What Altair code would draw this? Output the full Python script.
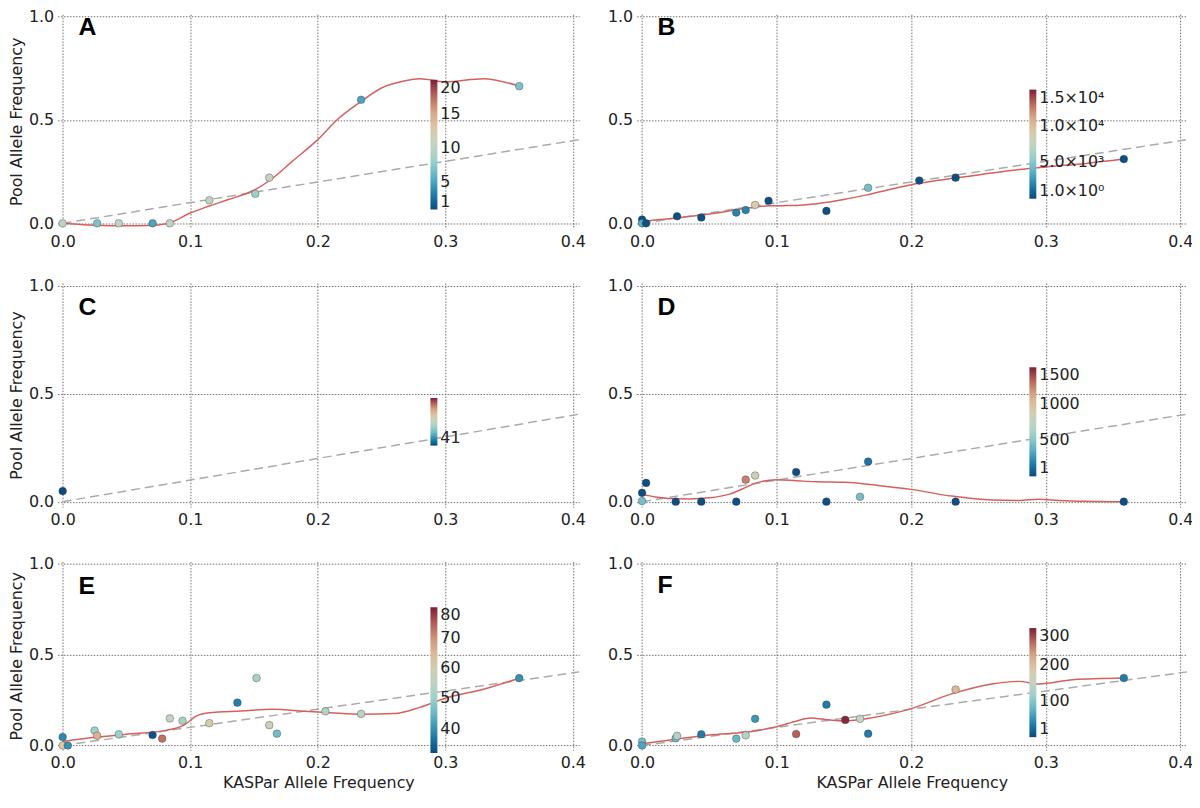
import pandas as pd
import altair as alt

# ── shared axes ───────────────────────────────────────────────────────
X_DOMAIN = [-0.004, 0.405]
Y_DOMAIN = [-0.025, 1.012]
X_TICKS = [0.0, 0.1, 0.2, 0.3, 0.4]
Y_TICKS = [0.0, 0.5, 1.0]
DIAG = [0.0, 0.41]

# blue -> teal -> grey -> tan -> dark red
CMAP = ["#0c4a7f", "#2381ab", "#5fb2c6", "#9dd0cb", "#c5d3c4",
        "#dbc9a9", "#d7a688", "#b8665c", "#7a1f37"]

TEXT_COLOR = "#222222"
CURVE_COLOR = "#d6605e"
DIAG_COLOR = "#aaaaaa"

# ── panel A ───────────────────────────────────────────────────────────
A_X = [0.0, 0.027, 0.044, 0.0705, 0.084, 0.115, 0.151, 0.162, 0.234, 0.358]
A_Y = [0.0, 0.0, 0.0, 0.0, 0.0, 0.111, 0.143, 0.221, 0.598, 0.664]
A_N = [10, 7, 10, 5, 10, 10, 8, 11, 5, 7]
A_CURVE_X = [0.0, 0.02, 0.04, 0.06, 0.075, 0.085, 0.1, 0.115, 0.13, 0.15, 0.162,
             0.18, 0.2, 0.215, 0.234, 0.25, 0.265, 0.28, 0.3, 0.33, 0.358]
A_CURVE_Y = [0.0, -0.008, -0.012, -0.012, -0.008, 0.005, 0.05, 0.084, 0.115, 0.16, 0.206,
             0.30, 0.405, 0.50, 0.59, 0.655, 0.685, 0.70, 0.685, 0.70, 0.664]
A_DOMAIN = [1, 20]
A_TICKS = [1, 5, 10, 15, 20]
A_TICK_TEXT = ["1", "5", "10", "15", "20"]

# ── panel B ───────────────────────────────────────────────────────────
B_X = [0.0, 0.0, 0.003, 0.026, 0.044, 0.070, 0.077, 0.084, 0.094, 0.137,
       0.168, 0.206, 0.233, 0.358]
B_Y = [0.018, 0.0, 0.0, 0.034, 0.028, 0.052, 0.064, 0.089, 0.109, 0.060,
       0.172, 0.207, 0.221, 0.311]
B_N = [200, 3500, 200, 200, 200, 2000, 2000, 9000, 200, 200,
       4500, 200, 200, 200]
B_CURVE_X = [0.0, 0.02, 0.05, 0.08, 0.095, 0.115, 0.13, 0.15, 0.17, 0.2,
             0.22, 0.25, 0.28, 0.3, 0.33, 0.358]
B_CURVE_Y = [0.01, 0.022, 0.045, 0.075, 0.085, 0.086, 0.095, 0.115, 0.142, 0.187,
             0.208, 0.234, 0.26, 0.273, 0.29, 0.311]
B_DOMAIN = [1, 15000]
B_TICKS = [1, 5000, 10000, 15000]
B_TICK_TEXT = ["1.0×10⁰", "5.0×10³", "1.0×10⁴", "1.5×10⁴"]

# ── panel C ───────────────────────────────────────────────────────────
C_X = [0.0]
C_Y = [0.049]
C_N = [41]
C_CURVE_X = []
C_CURVE_Y = []
C_DOMAIN = [41, 42]
C_TICKS = [41]
C_TICK_TEXT = ["41"]

# ── panel D ───────────────────────────────────────────────────────────
D_X = [0.0, 0.0, 0.003, 0.025, 0.044, 0.070, 0.077, 0.084, 0.1145, 0.137,
       0.162, 0.168, 0.233, 0.358]
D_Y = [0.041, 0.003, 0.087, 0.0, 0.0, 0.0, 0.102, 0.121, 0.137, 0.0,
       0.023, 0.186, 0.0, 0.0]
D_N = [20, 450, 20, 20, 20, 20, 1230, 820, 20, 20,
       450, 150, 20, 20]
D_CURVE_X = [0.0, 0.01, 0.02, 0.035, 0.05, 0.065, 0.075, 0.085, 0.1, 0.115, 0.13,
             0.15, 0.18, 0.2, 0.23, 0.26, 0.28, 0.295, 0.31, 0.33, 0.358]
D_CURVE_Y = [0.034, 0.022, 0.015, 0.013, 0.018, 0.035, 0.06, 0.087, 0.102, 0.097, 0.092,
             0.09, 0.072, 0.057, 0.026, 0.008, 0.006, 0.011, 0.006, 0.002, 0.0]
D_DOMAIN = [1, 1500]
D_TICKS = [1, 500, 1000, 1500]
D_TICK_TEXT = ["1", "500", "1000", "1500"]

# ── panel E ───────────────────────────────────────────────────────────
E_X = [0.0, 0.0, 0.004, 0.025, 0.027, 0.044, 0.0705, 0.078, 0.084, 0.094,
       0.115, 0.137, 0.152, 0.162, 0.168, 0.206, 0.234, 0.358]
E_Y = [0.047, 0.0, 0.0, 0.082, 0.054, 0.062, 0.058, 0.038, 0.149, 0.136,
       0.123, 0.236, 0.371, 0.112, 0.065, 0.188, 0.174, 0.371]
E_N = [39, 62, 40, 50, 66, 50, 33, 73, 56, 52,
       61, 38, 51, 58, 46, 53, 54, 40]
E_CURVE_X = [0.0, 0.025, 0.05, 0.08, 0.095, 0.105, 0.115, 0.14, 0.165, 0.19,
             0.21, 0.235, 0.26, 0.28, 0.3, 0.33, 0.358]
E_CURVE_Y = [0.022, 0.045, 0.062, 0.082, 0.112, 0.163, 0.18, 0.19, 0.2, 0.188,
             0.18, 0.172, 0.176, 0.21, 0.26, 0.31, 0.37]
E_DOMAIN = [32, 80]
E_TICKS = [40, 50, 60, 70, 80]
E_TICK_TEXT = ["40", "50", "60", "70", "80"]

# ── panel F ───────────────────────────────────────────────────────────
F_X = [0.0, 0.0, 0.025, 0.026, 0.044, 0.070, 0.077, 0.084, 0.1145, 0.137,
       0.151, 0.162, 0.168, 0.233, 0.358]
F_Y = [0.022, 0.0, 0.04, 0.053, 0.062, 0.038, 0.056, 0.147, 0.063, 0.225,
       0.141, 0.147, 0.065, 0.308, 0.371]
F_N = [90, 65, 85, 135, 35, 80, 135, 55, 265, 35,
       295, 150, 35, 205, 35]
F_CURVE_X = [0.0, 0.025, 0.05, 0.08, 0.1, 0.115, 0.125, 0.14, 0.15, 0.17,
             0.2, 0.23, 0.26, 0.28, 0.295, 0.32, 0.358]
F_CURVE_Y = [0.01, 0.035, 0.058, 0.076, 0.103, 0.135, 0.152, 0.14, 0.136, 0.152,
             0.203, 0.284, 0.339, 0.353, 0.339, 0.362, 0.371]
F_DOMAIN = [1, 300]
F_TICKS = [1, 100, 200, 300]
F_TICK_TEXT = ["1", "100", "200", "300"]

LEFT_W, RIGHT_W = 526, 555
ROW_H = [216, 226, 190]


def label_expr(values, texts):
    expr = "''"
    for v, t in zip(reversed(values), reversed(texts)):
        expr = f"datum.value == {v} ? '{t}' : {expr}"
    return expr


def panel(letter, xs, ys, ns, cxs, cys, domain, ticks, tick_text,
          bar_len, leg_y, tag_y, width, height, y_title, x_title):
    x_scale = alt.Scale(domain=X_DOMAIN, nice=False, zero=False)
    y_scale = alt.Scale(domain=Y_DOMAIN, nice=False, zero=False)
    x_enc = alt.X("kaspar:Q", scale=x_scale,
                  axis=alt.Axis(values=X_TICKS, format=".1f", title=x_title,
                                labelFlush=False))
    y_enc = alt.Y("pool:Q", scale=y_scale,
                  axis=alt.Axis(values=Y_TICKS, format=".1f", title=y_title))

    diag = (
        alt.Chart(pd.DataFrame({"kaspar": DIAG, "pool": DIAG}))
        .mark_line(color=DIAG_COLOR, strokeDash=[9, 5], strokeWidth=1.5, clip=True)
        .encode(x=x_enc, y=y_enc)
    )

    layers = [diag]
    if cxs:
        curve = (
            alt.Chart(pd.DataFrame({"kaspar": cxs, "pool": cys}))
            .mark_line(color=CURVE_COLOR, strokeWidth=1.5, interpolate="monotone", clip=True)
            .encode(x=x_enc, y=y_enc)
        )
        layers.append(curve)

    # colour bar sits at about x = 0.288 in data units
    leg_x = round(width * (0.288 - X_DOMAIN[0]) / (X_DOMAIN[1] - X_DOMAIN[0]))

    points = (
        alt.Chart(pd.DataFrame({"kaspar": xs, "pool": ys, "n": ns}))
        .mark_circle(size=60, opacity=1, stroke="#333333",
                     strokeWidth=0.6, strokeOpacity=0.6)
        .encode(
            x=x_enc,
            y=y_enc,
            color=alt.Color(
                "n:Q",
                scale=alt.Scale(domain=domain, range=CMAP, nice=False, zero=False),
                legend=alt.Legend(
                    title=None,
                    orient="none",
                    direction="vertical",
                    legendX=leg_x,
                    legendY=leg_y,
                    gradientLength=bar_len,
                    gradientThickness=7,
                    gradientStrokeWidth=0,
                    values=ticks,
                    labelExpr=label_expr(ticks, tick_text),
                    labelBaseline="middle",
                    labelOverlap=False,
                    labelOffset=3,
                ),
            ),
        )
    )
    layers.append(points)

    tag = (
        alt.Chart(pd.DataFrame({"t": [letter]}))
        .mark_text(font="Liberation Sans", fontWeight="bold", fontSize=25,
                   align="left", baseline="middle", color="#000000")
        .encode(x=alt.value(21), y=alt.value(tag_y), text="t:N")
    )
    layers.append(tag)

    return alt.layer(*layers).properties(width=width, height=height)


p_a = panel("A", A_X, A_Y, A_N, A_CURVE_X, A_CURVE_Y, A_DOMAIN, A_TICKS, A_TICK_TEXT,
            131, 66, 13, LEFT_W, ROW_H[0], "Pool Allele Frequency", None)
p_b = panel("B", B_X, B_Y, B_N, B_CURVE_X, B_CURVE_Y, B_DOMAIN, B_TICKS, B_TICK_TEXT,
            110, 76, 13, RIGHT_W, ROW_H[0], None, None)
p_c = panel("C", C_X, C_Y, C_N, C_CURVE_X, C_CURVE_Y, C_DOMAIN, C_TICKS, C_TICK_TEXT,
            48, 116, 24, LEFT_W, ROW_H[1], "Pool Allele Frequency", None)
p_d = panel("D", D_X, D_Y, D_N, D_CURVE_X, D_CURVE_Y, D_DOMAIN, D_TICKS, D_TICK_TEXT,
            110, 85, 24, RIGHT_W, ROW_H[1], None, None)
p_e = panel("E", E_X, E_Y, E_N, E_CURVE_X, E_CURVE_Y, E_DOMAIN, E_TICKS, E_TICK_TEXT,
            147, 46, 25, LEFT_W, ROW_H[2], "Pool Allele Frequency", "KASPar Allele Frequency")
p_f = panel("F", F_X, F_Y, F_N, F_CURVE_X, F_CURVE_Y, F_DOMAIN, F_TICKS, F_TICK_TEXT,
            110, 67, 24, RIGHT_W, ROW_H[2], None, "KASPar Allele Frequency")


def row(left, right):
    return (
        alt.hconcat(left, right, spacing=21)
        .resolve_scale(x="independent", y="independent", color="independent")
    )


chart = (
    alt.vconcat(row(p_a, p_b), row(p_c, p_d), row(p_e, p_f), spacing=28)
    .resolve_scale(x="independent", y="independent", color="independent")
    .properties(padding={"left": 0, "top": -3, "right": -1, "bottom": 0})
    .configure(background="white")
    .configure_view(strokeWidth=0)
    .configure_axis(
        domain=False,
        ticks=False,
        labelFont="DejaVu Sans",
        labelFontSize=16,
        labelColor=TEXT_COLOR,
        titleFont="DejaVu Sans",
        titleFontSize=16,
        titleFontWeight="normal",
        titleColor=TEXT_COLOR,
        gridColor="#6f6f6f",
        gridDash=[1.5, 1.5],
        gridWidth=1,
    )
    .configure_axisX(labelPadding=5, titlePadding=4)
    .configure_axisY(labelPadding=4, titlePadding=4)
    .configure_legend(labelFont="DejaVu Sans", labelFontSize=16, labelColor=TEXT_COLOR)
)

chart.save("out.html", embed_options={"renderer": "svg", "actions": False})
